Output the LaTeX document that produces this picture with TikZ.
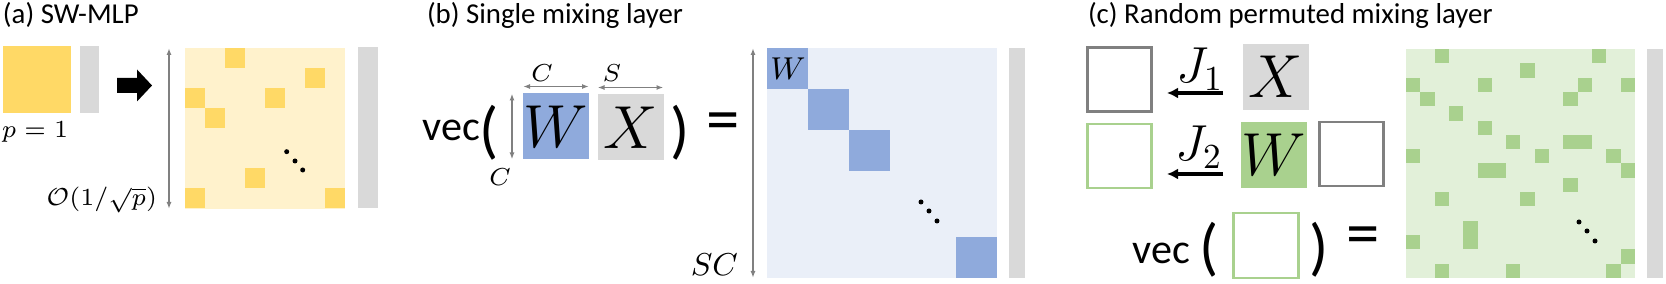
\documentclass[tikz,border=0pt]{standalone}
\usepackage{amsmath,amssymb}
\usepackage{fontspec}
\newfontfamily\calibri{Carlito}
\usepackage{tikz}
\usetikzlibrary{arrows.meta,positioning}

\definecolor{ydark}{HTML}{FFD966}
\definecolor{ylight}{HTML}{FFF2CC}
\definecolor{bdark}{HTML}{8FAADC}
\definecolor{blight}{HTML}{EAEFF8}
\definecolor{gdark}{HTML}{A9D18E}
\definecolor{glight}{HTML}{E2F0D9}
\definecolor{bargray}{HTML}{D9D9D9}
\definecolor{boxgray}{HTML}{808080}

\begin{document}
\begin{tikzpicture}[x=0.1mm, y=-0.1mm,
    every node/.style={inner sep=0pt, outer sep=0pt},
    title/.style={anchor=west, font=\fontsize{8.2}{10}\selectfont\calibri},
    sq/.style={minimum width=6.6mm, minimum height=6.6mm},
    hollow/.style={draw=#1, line width=0.8pt, minimum size=6.4mm},
    dim/.style={draw=boxgray, line width=0.4pt,
        {Latex[length=0.7mm,width=0.5mm]}-{Latex[length=0.7mm,width=0.5mm]}},
    perm/.style={line width=0.9pt, -{Latex[length=1.1mm,width=1.1mm]}},
    lbl/.style={font=\fontsize{7}{8}\selectfont},
    sym/.style={font=\fontsize{16}{18}\selectfont},
    vectxt/.style={anchor=east, font=\fontsize{12}{14}\selectfont\calibri},
    paren/.style={font=\fontsize{18}{20}\selectfont\calibri},
    eqsign/.style={font=\fontsize{19}{22}\selectfont\calibri}]

    \useasboundingbox (0,0) rectangle (1666,284);

    % (a) SW-MLP
    \node[title] at (3,15) (tA) {(a) SW-MLP};
    \node[fill=ydark, minimum width=6.8mm, minimum height=6.7mm] at (37,79.5) (pA) {};
    \node[fill=bargray, minimum width=1.9mm, minimum height=6.7mm] at (89.5,79.5) (vA) {};
    \node[font=\fontsize{6.7}{8}\selectfont] at (35,132) (pone) {$p=1$};
    \fill (117,78) -- (137,78) -- (137,69.5) -- (152,85.5) -- (137,101.5) -- (137,93) -- (117,93) -- cycle;
    \node[fill=ylight, minimum width=16mm, minimum height=16.1mm, anchor=north west] at (185,48) (mA) {};
    \foreach \c/\r in {2/0,6/1,0/2,4/2,1/3,3/6,0/7,7/7}
        \fill[ydark] ({185+20*\c},{48+20*\r}) rectangle ++(20,20);
    \foreach \x/\y in {286.7/151.7,295/161,302.7/170}
        \fill (\x,\y) circle[radius=0.25mm];
    \draw[dim] ([xshift=-1.6mm]mA.north west) -- ([xshift=-1.6mm]mA.south west);
    \node[font=\fontsize{6.6}{8}\selectfont, anchor=east] at (157,200) (oA) {$\mathcal{O}(1/\sqrt{p})$};
    \node[fill=bargray, minimum width=2mm, minimum height=16.1mm, anchor=north west] at (358,47) (vA2) {};

    % (b) Single mixing layer
    \node[title] at (427,15) (tB) {(b) Single mixing layer};
    \node[vectxt] at (480,130.5) (vecB) {vec};
    \node[paren] at (489,133) (lpB) {(};
    \node[sq, fill=bdark, sym] at (556,126.5) (wB) {$W$};
    \node[sq, fill=bargray, sym] at (630.5,127.5) (xB) {$X$};
    \node[paren] at (680,133) (rpB) {)};
    \node[eqsign] at (723,127) (eqB) {=};
    \draw[dim] ([xshift=-1.1mm]wB.north west) -- ([xshift=-1.1mm]wB.south west);
    \draw[dim] ([yshift=0.7mm]wB.north west) -- ([yshift=0.7mm]wB.north east);
    \draw[dim] ([yshift=0.7mm]xB.north west) -- ([yshift=0.7mm]xB.north east);
    \node[lbl] at (500,177) (cB1) {$C$};
    \node[lbl] at (542,73) (cB2) {$C$};
    \node[lbl] at (612,73) (sB) {$S$};
    \node[fill=blight, minimum size=23mm, anchor=north west] at (767,48) (mB) {};
    \foreach \i in {0,1,2}
        \fill[bdark] ({767+41*\i},{48+41*\i}) rectangle ++(41,41);
    \fill[bdark] (956,237) rectangle ++(41,41);
    \node[font=\fontsize{9}{10}\selectfont] at (788,69) (wB2) {$W$};
    \foreach \x/\y in {921/202,929/211,937/221}
        \fill (\x,\y) circle[radius=0.25mm];
    \draw[dim] ([xshift=-1.4mm]mB.north west) -- ([xshift=-1.4mm]mB.south west);
    \node[font=\fontsize{9}{10}\selectfont, anchor=east] at (738,265) (scB) {$SC$};
    \node[fill=bargray, minimum width=1.6mm, minimum height=23mm, anchor=north west] at (1009,48) (vB) {};

    % (c) Random permuted mixing layer
    \node[title] at (1088,15) (tC) {(c) Random permuted mixing layer};
    \node[hollow=boxgray] at (1119.5,79.5) (jX) {};
    \node[sq, fill=bargray, sym] at (1276,77) (xC) {$X$};
    \node[hollow=gdark] at (1119.5,156) (jW) {};
    \node[sq, fill=gdark, sym] at (1274,155) (wC) {$W$};
    \node[hollow=boxgray] at (1351.5,154) (oC) {};
    \coordinate (j1s) at (1223,93);
    \coordinate (j1e) at (1167,93);
    \coordinate (j2s) at (1223,174);
    \coordinate (j2e) at (1167,174);
    \draw[perm] (j1s) -- (j1e);
    \draw[perm] (j2s) -- (j2e);
    \node[font=\fontsize{14}{16}\selectfont] at (1200,69) (jl1) {$J_1$};
    \node[font=\fontsize{14}{16}\selectfont] at (1199,147) (jl2) {$J_2$};
    \node[vectxt] at (1190,253) (vecC) {vec};
    \node[paren] at (1209,250) (lpC) {(};
    \node[hollow=gdark, minimum size=6.5mm] at (1266,245.5) (vC) {};
    \node[paren] at (1319,250) (rpC) {)};
    \node[eqsign] at (1363.5,241.5) (eqC) {=};
    \node[fill=glight, minimum size=22.9mm, anchor=north west] at (1406,49) (mC) {};
    \foreach \c/\r/\w/\h in {2/0/1/1,13/0/1/1,8/1/1/1,0/2/1/1,5/2/1/1,12/2/1/1,15/2/1/1,
        1/3/1/1,11/3/1/1,3/4/1/1,5/5/1/1,7/6/1/1,11/6/2/1,0/7/1/1,9/7/1/1,14/7/1/1,
        5/8/2/1,15/8/1/1,11/9/1/1,2/10/1/1,8/10/1/1,4/12/1/2,0/13/1/1,15/14/1/1,
        2/15/1/1,7/15/1/1,14/15/1/1}
        \fill[gdark] ({1406+14.31*\c},{49+14.31*\r}) rectangle ++({14.31*\w},{14.31*\h});
    \foreach \x/\y in {1579/222,1587/231,1595/241}
        \fill (\x,\y) circle[radius=0.25mm];
    \node[fill=bargray, minimum width=1.6mm, minimum height=22.9mm, anchor=north west] at (1647,49) (vC2) {};
\end{tikzpicture}
\end{document}
